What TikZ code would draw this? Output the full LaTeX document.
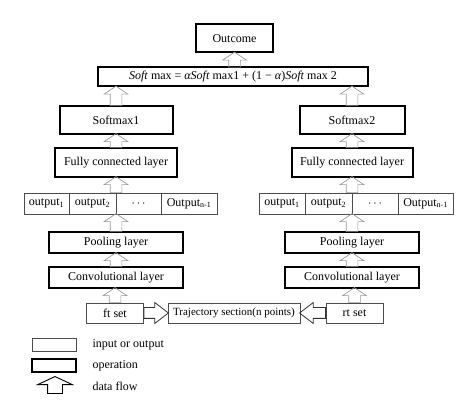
\documentclass[tikz,border=0pt]{standalone}
\usepackage{fontspec}
\setmainfont{Liberation Serif}
\usetikzlibrary{positioning, shapes.arrows, calc}

% hollow block arrow from one anchor to another
\newcommand{\flow}[3][flowup]{%
    \path let \p1 = (#2), \p2 = (#3), \n1 = {veclen(\x2-\x1,\y2-\y1)} in
        node[#1, minimum height = \n1, anchor = tail] at (\p1) {};}

\begin{document}
\begin{tikzpicture}[
            x = 1pt, y = 1pt,
            font = \fontsize{12}{14}\selectfont,
            io/.style = {draw = black!70, line width = 0.6pt, minimum height = 20pt, inner sep = 1pt, outer sep = 0pt}, % input or output
            op/.style = {draw = black, line width = 2pt, minimum height = 20pt, inner sep = 1pt, outer sep = 0pt}, % operation
            cell/.style = {io, minimum height = 21pt},
            flowup/.style = {single arrow, draw = black!40, line width = 0.7pt, rotate = 90,
                inner xsep = 0pt, inner ysep = 5.5pt, single arrow head extend = 6pt,
                single arrow tip angle = 112},
            flowright/.style = {single arrow, draw = black!80, line width = 0.8pt,
                inner xsep = 0pt, inner ysep = 5pt, single arrow head extend = 5pt,
                single arrow tip angle = 75},
            flowleft/.style = {flowright, rotate = 180},
            flowkey/.style = {single arrow, draw = black, line width = 0.9pt, rotate = 90,
                inner xsep = 0pt, inner ysep = 7pt, single arrow head extend = 10pt,
                single arrow tip angle = 130}
        ]
        \useasboundingbox (0,0) rectangle (474,417);

        % inputs
        \node[io, minimum width = 57pt] (ft) at (115,104) {ft set};
        \node[io, minimum width = 132pt, right = 24.5pt of ft] (traj) {\fontsize{11}{13}\selectfont Trajectory section(n points)};
        \node[io, minimum width = 57pt, right = 26pt of traj] (rt) {rt set};

        % left branch
        \node[op, minimum width = 134pt, minimum height = 21pt, above = 15pt of ft, xshift = 1pt] (conv1) {Convolutional layer};
        \node[op, minimum width = 134pt, minimum height = 21pt, above = 14pt of conv1] (pool1) {Pooling layer};
        \node[cell, minimum width = 47pt, above left = 18pt and 0pt of pool1.north] (o12) {output\textsubscript{2}};
        \node[cell, minimum width = 45pt, left = 0pt of o12] (o11) {output\textsubscript{1}};
        \node[cell, minimum width = 45pt, right = 0pt of o12] (o13) {$\cdots$};
        \node[cell, minimum width = 56pt, right = 0pt of o13] (o14) {Output\textsubscript{n-1}};
        \node[op, minimum width = 122pt, minimum height = 29pt, above = 16pt of o12.north east] (fc1) {Fully connected layer};
        \node[op, minimum width = 113pt, minimum height = 28pt, above = 14pt of fc1] (sm1) {Softmax1};

        % right branch
        \node[op, minimum width = 134pt, minimum height = 21pt, above = 15pt of rt, xshift = -2.5pt] (conv2) {Convolutional layer};
        \node[op, minimum width = 134pt, minimum height = 21pt, above = 14pt of conv2] (pool2) {Pooling layer};
        \node[cell, minimum width = 47pt, above left = 18pt and 0pt of pool2.north] (o22) {output\textsubscript{2}};
        \node[cell, minimum width = 46pt, left = 0pt of o22] (o21) {output\textsubscript{1}};
        \node[cell, minimum width = 46pt, right = 0pt of o22] (o23) {$\cdots$};
        \node[cell, minimum width = 55pt, right = 0pt of o23] (o24) {Output\textsubscript{n-1}};
        \node[op, minimum width = 121pt, minimum height = 29pt, above = 16pt of o22.north east] (fc2) {Fully connected layer};
        \node[op, minimum width = 105pt, minimum height = 28pt, above = 14pt of fc2] (sm2) {Softmax2};

        % fusion
        \node[op, minimum width = 270pt, minimum height = 19pt] (fuse) at (233,340)
            {\textit{Soft} max = \textit{αSoft} max1 + (1 − \textit{α})\textit{Soft} max 2};
        \node[op, minimum width = 77pt, minimum height = 28pt, above = 15pt of fuse, xshift = 1.5pt] (out) {Outcome};

        % data flow
        \flow[flowright]{ft.east}{traj.west}
        \flow[flowleft]{rt.west}{traj.east}
        \flow{ft.north}{ft.north |- conv1.south}
        \flow{conv1.north}{pool1.south}
        \flow{pool1.north}{pool1.north |- o12.south}
        \flow{o12.north east}{o12.north east |- fc1.south}
        \flow{fc1.north}{sm1.south}
        \flow{sm1.north}{sm1.north |- fuse.south}
        \flow{rt.north}{rt.north |- conv2.south}
        \flow{conv2.north}{pool2.south}
        \flow{pool2.north}{pool2.north |- o22.south}
        \flow{o22.north east}{o22.north east |- fc2.south}
        \flow{fc2.north}{sm2.south}
        \flow{sm2.north}{sm2.north |- fuse.south}
        \flow{fuse.north -| out.south}{out.south}

        % legend
        \node[io, minimum width = 44pt, minimum height = 13pt] (keyio) at (54,72) {};
        \node[op, minimum width = 44pt, minimum height = 13pt] (keyop) at (54,51.5) {};
        \coordinate (keybase) at (55,23);
        \coordinate (keytip) at (55,40);
        \flow[flowkey]{keybase}{keytip}
        \node[right = 13pt of keyio, anchor = west] {input or output};
        \node[right = 13pt of keyop, anchor = west] {operation};
        \node[anchor = west, xshift = 13pt] at (keyio.east |- 0,31) {data flow};

  \end{tikzpicture}
\end{document}
